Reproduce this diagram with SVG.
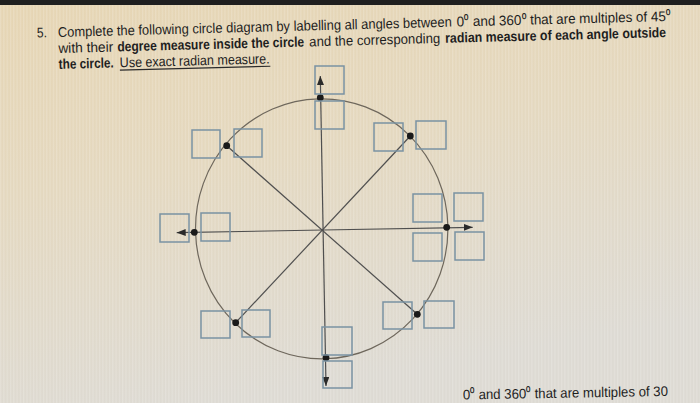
<svg xmlns="http://www.w3.org/2000/svg" width="700" height="403" viewBox="0 0 700 403">
<defs>
<linearGradient id="bg" x1="0" y1="0" x2="0.3" y2="1">
<stop offset="0" stop-color="#e6d5b3"/>
<stop offset="0.45" stop-color="#e4d8bf"/>
<stop offset="1" stop-color="#dddad3"/>
</linearGradient>
<pattern id="stripes" width="3.3" height="10" patternUnits="userSpaceOnUse">
<rect x="0" y="0" width="1.2" height="10" fill="#ffffff" opacity="0.18"/>
</pattern>
<marker id="arr" markerUnits="userSpaceOnUse" markerWidth="9" markerHeight="7" refX="9" refY="3.5" orient="auto">
<path d="M0,0 L9,3.5 L0,7 z" fill="#2a2a2a"/>
</marker>
<style>
.t{font-family:"Liberation Sans",Arial,sans-serif;font-size:14px;fill:#1e1e1e}
.b{font-weight:bold}
.box{fill:none;stroke:#7a92a3;stroke-width:1.5}
.ax{stroke:#4f4f4f;stroke-width:1.2;fill:none}
.dot{fill:#1a1a1a}
</style>
</defs>
<rect width="700" height="403" fill="url(#bg)"/>
<rect width="700" height="403" fill="url(#stripes)"/>
<rect width="700" height="5" fill="#1f1f1f"/>

<g id="question" transform="rotate(-1.5 57 37)">
<text class="t" x="37" y="37" textLength="10" lengthAdjust="spacingAndGlyphs">5.</text>
<text class="t" x="58" y="37" textLength="215" lengthAdjust="spacingAndGlyphs">Complete the following circle diagram</text>
<text class="t" x="276.5" y="37" textLength="175.5" lengthAdjust="spacingAndGlyphs">by labelling all angles between</text>
<text class="t" x="457" y="37" textLength="119" lengthAdjust="spacingAndGlyphs">0⁰ and 360⁰ that are</text>
<text class="t" x="579.5" y="37" textLength="91.5" lengthAdjust="spacingAndGlyphs">multiples of 45⁰</text>
<text class="t" x="58" y="53" textLength="55" lengthAdjust="spacingAndGlyphs">with their</text>
<text class="t b" x="117" y="53" textLength="187" lengthAdjust="spacingAndGlyphs">degree measure inside the circle</text>
<text class="t" x="309" y="53" textLength="131" lengthAdjust="spacingAndGlyphs">and the corresponding</text>
<text class="t b" x="445" y="53" textLength="106.5" lengthAdjust="spacingAndGlyphs">radian measure of</text>
<text class="t b" x="555" y="53" textLength="111" lengthAdjust="spacingAndGlyphs">each angle outside</text>
<text class="t b" x="58" y="69" textLength="55" lengthAdjust="spacingAndGlyphs">the circle.</text>
<text class="t" x="119" y="69" textLength="150" lengthAdjust="spacingAndGlyphs">Use exact radian measure.</text>
<line x1="119" y1="71.8" x2="269.5" y2="71.8" stroke="#2a2a2a" stroke-width="1.1"/>
</g>

<g id="footer" transform="rotate(-1 463 400)">
<text class="t" x="463" y="399.5" textLength="205" lengthAdjust="spacingAndGlyphs" fill="#555">0⁰ and 360⁰ that are multiples of 30</text>
</g>

<g id="circle">
<ellipse cx="321.7" cy="228.8" rx="126.2" ry="130" transform="rotate(-1.3 321.7 228.8)" fill="none" stroke="#6e675c" stroke-width="1.2"/>
</g>

<g id="connectors">
<line class="ax" x1="323.1" y1="230" x2="320.3" y2="76" marker-end="url(#arr)"/>
<line class="ax" x1="323.1" y1="230" x2="326" y2="386" marker-end="url(#arr)"/>
<line class="ax" x1="323.1" y1="230" x2="176.7" y2="232.7" marker-end="url(#arr)"/>
<line class="ax" x1="323.1" y1="230" x2="472.7" y2="227.3" marker-end="url(#arr)"/>
<line class="ax" x1="226.7" y1="145.7" x2="417.3" y2="314.3"/>
<line class="ax" x1="410.3" y1="136" x2="235.7" y2="322.7"/>
</g>

<g id="points">
<circle class="dot" cx="320.3" cy="97.7" r="3.4"/>
<circle class="dot" cx="410.3" cy="136" r="3.4"/>
<circle class="dot" cx="446.7" cy="227.3" r="3.4"/>
<circle class="dot" cx="417.3" cy="314.3" r="3.4"/>
<circle class="dot" cx="326" cy="357.7" r="3.4"/>
<circle class="dot" cx="235.7" cy="322.7" r="3.4"/>
<circle class="dot" cx="194.3" cy="232.3" r="3.4"/>
<circle class="dot" cx="226.7" cy="145.7" r="3.4"/>
</g>

<g id="box-90-outer"><rect class="box" x="315" y="66" width="29" height="28"/></g>
<g id="box-90-inner"><rect class="box" x="315" y="101" width="29" height="28"/></g>
<g id="box-135-outer"><rect class="box" x="192" y="130" width="28" height="28"/></g>
<g id="box-135-inner"><rect class="box" x="234" y="129" width="28" height="28"/></g>
<g id="box-45-inner"><rect class="box" x="374" y="123" width="29" height="28"/></g>
<g id="box-45-outer"><rect class="box" x="416" y="121" width="30" height="28"/></g>
<g id="box-0-a"><rect class="box" x="413" y="194" width="29" height="28"/></g>
<g id="box-0-b"><rect class="box" x="454" y="193" width="29" height="28"/></g>
<g id="box-360-a"><rect class="box" x="413" y="233" width="29" height="28"/></g>
<g id="box-360-b"><rect class="box" x="455" y="232" width="29" height="28"/></g>
<g id="box-180-outer"><rect class="box" x="160" y="214" width="29" height="28"/></g>
<g id="box-180-inner"><rect class="box" x="201" y="213" width="29" height="28"/></g>
<g id="box-225-outer"><rect class="box" x="201" y="311" width="29" height="27"/></g>
<g id="box-225-inner"><rect class="box" x="242" y="310" width="28" height="27"/></g>
<g id="box-315-inner"><rect class="box" x="383" y="302" width="29" height="27"/></g>
<g id="box-315-outer"><rect class="box" x="424" y="301" width="30" height="27"/></g>
<g id="box-270-inner"><rect class="box" x="322" y="327" width="30" height="28"/></g>
<g id="box-270-outer"><rect class="box" x="323" y="361" width="29" height="27"/></g>
</svg>
